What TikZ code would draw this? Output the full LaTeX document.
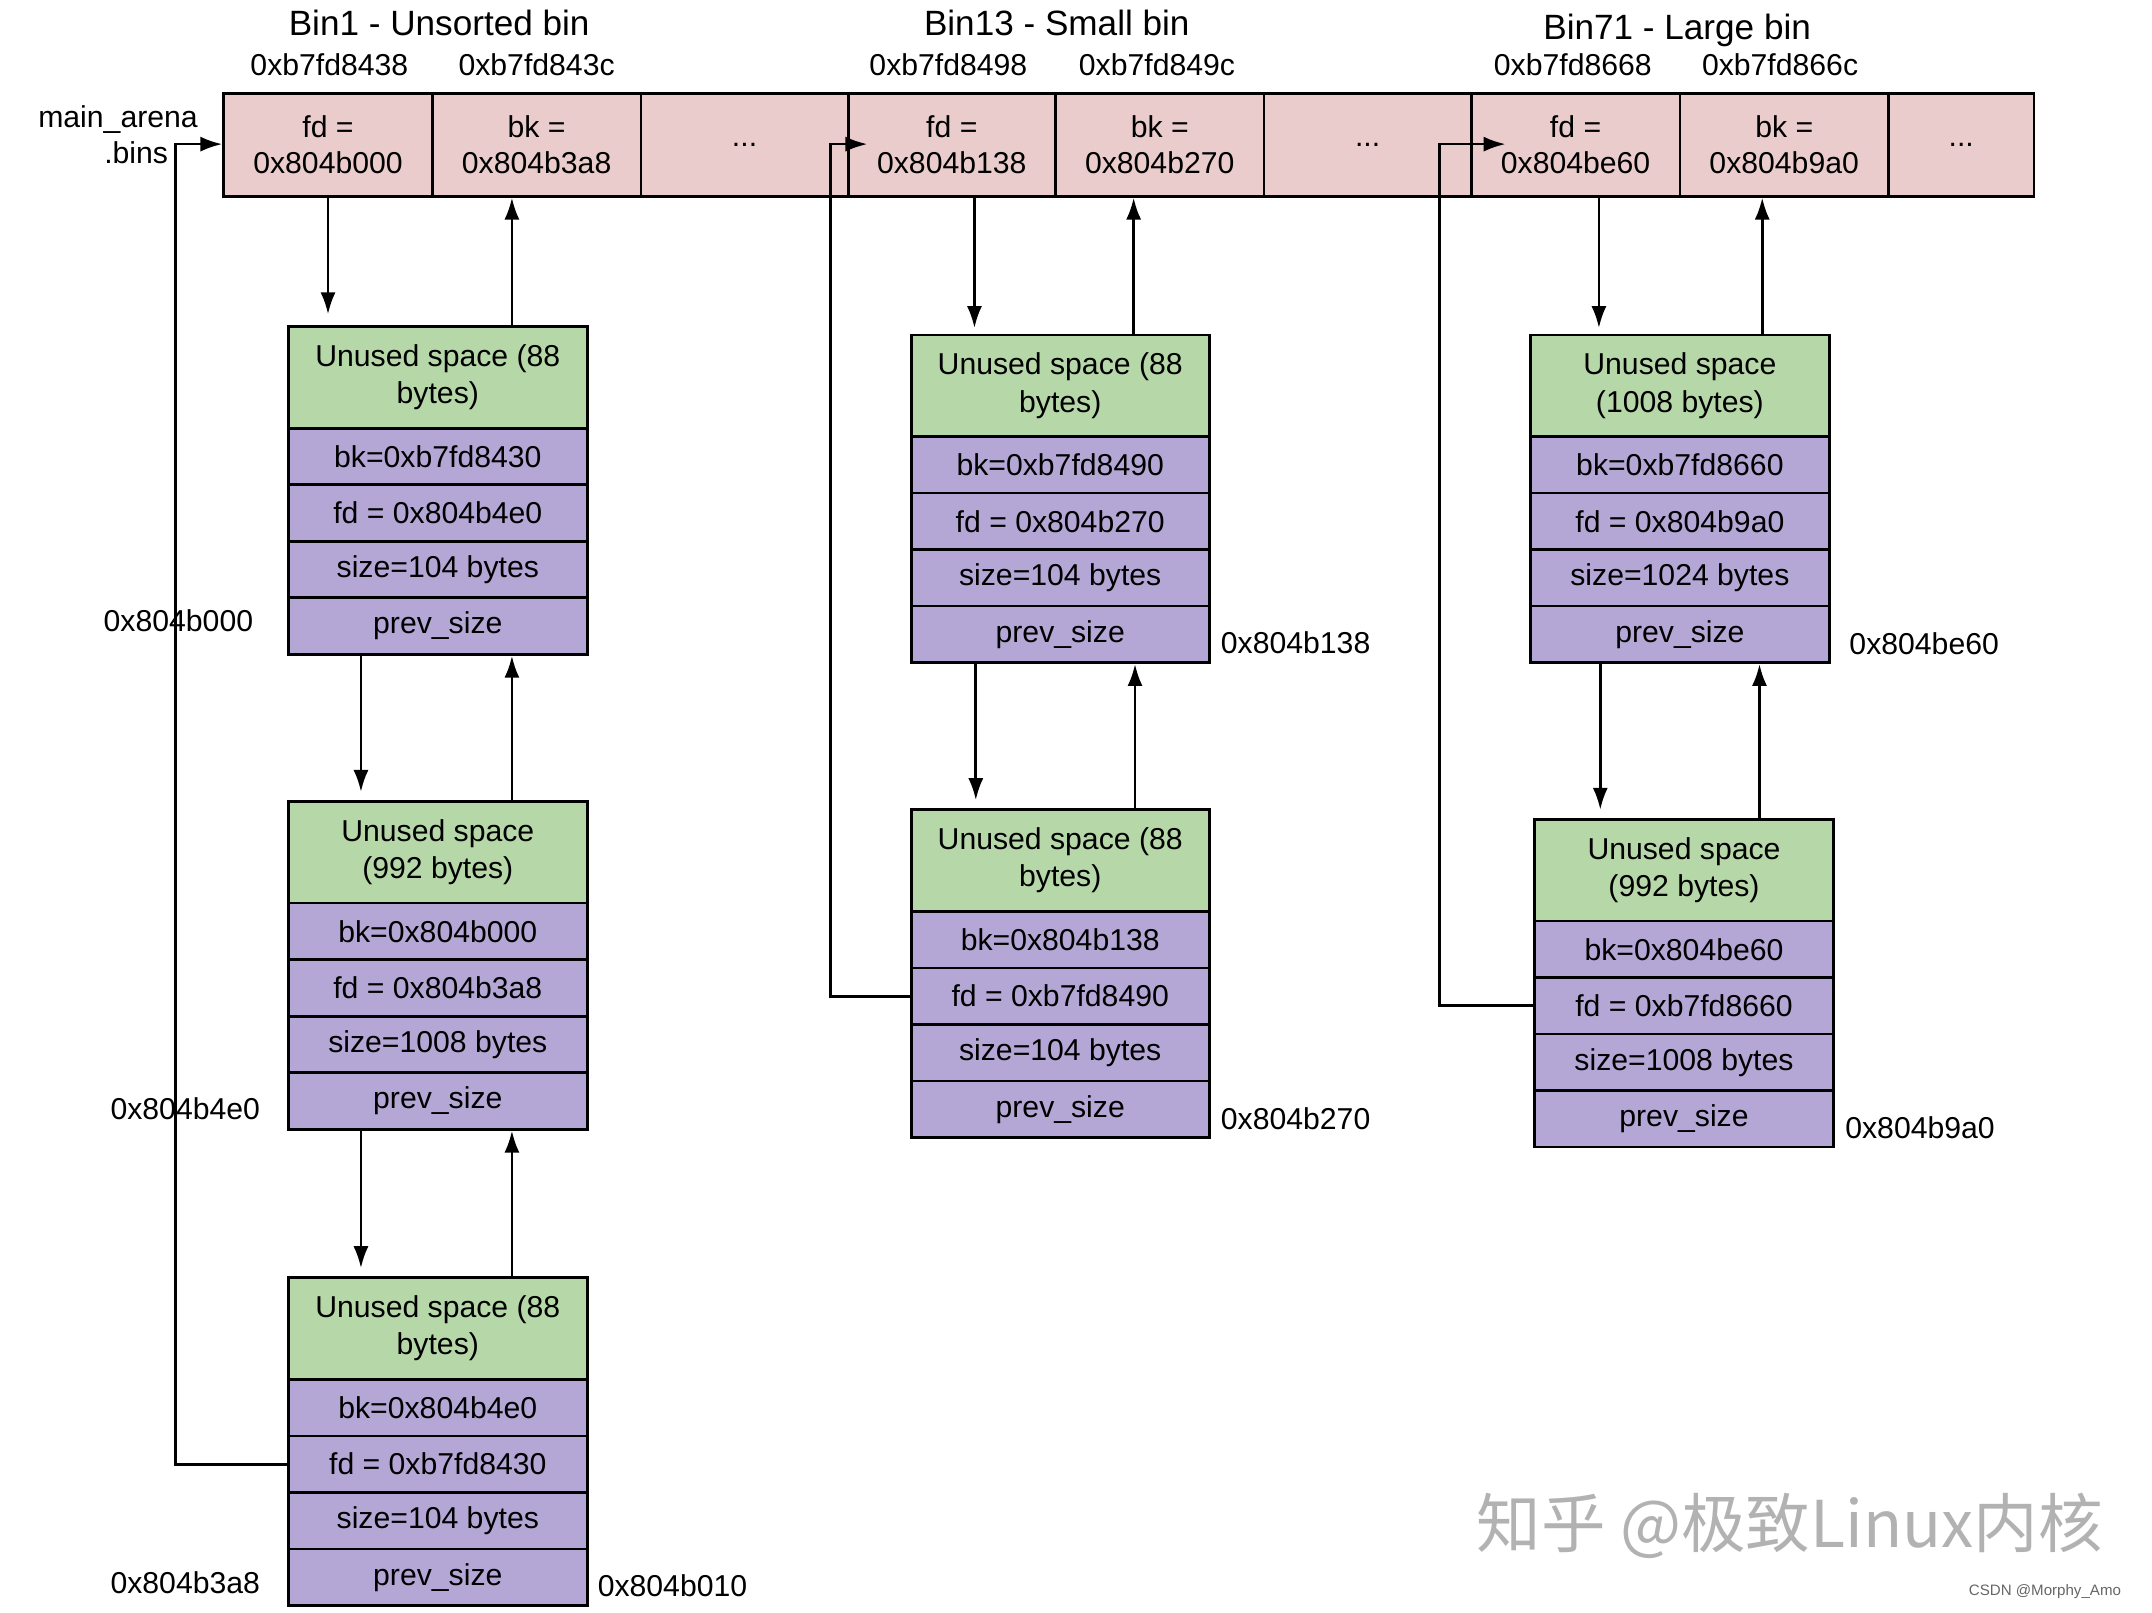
\documentclass[tikz,border=0pt]{standalone}
\usepackage{fontspec}
\setmainfont{Liberation Sans}
\newfontfamily\cjk{Noto Sans CJK SC}
\usetikzlibrary{arrows.meta,calc}
\definecolor{binpink}{RGB}{234,204,204}
\definecolor{chgreen}{RGB}{182,215,168}
\definecolor{chpurple}{RGB}{180,167,214}
\tikzset{
  cell/.style={draw=black,line width=1pt,fill=binpink,inner sep=0pt,align=center,font=\fontsize{11}{13}\selectfont},
  grn/.style={draw=black,line width=1pt,fill=chgreen,inner sep=0pt,align=center,font=\fontsize{11}{13.5}\selectfont},
  prp/.style={draw=black,line width=1pt,fill=chpurple,inner sep=0pt,align=center,font=\fontsize{11}{13}\selectfont},
  lbl/.style={inner sep=0pt,font=\fontsize{11}{13}\selectfont},
  ttl/.style={inner sep=0pt,font=\fontsize{12.8}{15}\selectfont},
  arr/.style={line width=1pt,-{Latex[length=8pt,width=5.5pt]}},
}
% #1 name #2 left #3 right #4 top #5 green text #6 bk #7 fd #8 size
\newcommand\mychunk[8]{%
  \pgfmathsetmacro\cw{(#3-#2)*0.5}%
  \pgfmathsetmacro\cx{(#2+#3)/2}%
  \node[grn,minimum width=\cw pt,minimum height=37pt] (#1g) at (\cx,#4+37) {#5};
  \node[prp,minimum width=\cw pt,minimum height=20.6pt] (#1bk) at (\cx,#4+74+20.6) {#6};
  \node[prp,minimum width=\cw pt,minimum height=20.6pt] (#1fd) at (\cx,#4+74+61.8) {#7};
  \node[prp,minimum width=\cw pt,minimum height=20.6pt] (#1sz) at (\cx,#4+74+103) {#8};
  \node[prp,minimum width=\cw pt,minimum height=20.6pt] (#1ps) at (\cx,#4+74+144.2) {prev\_size};
}
\begin{document}
\begin{tikzpicture}[x=0.5pt,y=-0.5pt]
\useasboundingbox (0,0) rectangle (1568,1175);
% bin bar
\foreach \n/\a/\b/\t in {c1/163/315/{fd =\\0x804b000},c2/315/467/{bk =\\0x804b3a8},c3/467/618/{...},
  c4/618/769/{fd =\\0x804b138},c5/769/921/{bk =\\0x804b270},c6/921/1072/{...},
  c7/1072/1224/{fd =\\0x804be60},c8/1224/1376/{bk =\\0x804b9a0},c9/1376/1482/{...}}{
  \pgfmathsetmacro\cw{(\b-\a)*0.5}
  \node[cell,minimum width=\cw pt,minimum height=37.5pt] (\n) at ({(\a+\b)/2},105.5) {\t};
}
% titles
\node[ttl] (t1) at (320,17) {Bin1 - Unsorted bin};
\node[ttl] (t2) at (770,17) {Bin13 - Small bin};
\node[ttl] (t3) at (1222,22) {Bin71 - Large bin};
\foreach \x/\t [count=\i] in {240/0xb7fd8438,391/0xb7fd843c,691/0xb7fd8498,843/0xb7fd849c,1146/0xb7fd8668,1297/0xb7fd866c}
  \node[lbl] (h\i) at (\x,47) {\t};
\node[lbl,align=center] (ma) at (86,98) {main\_arena\\\hspace*{1.2em}.bins};
% chunks
\mychunk{A}{210}{428}{238}{Unused space (88\\bytes)}{bk=0xb7fd8430}{fd = 0x804b4e0}{size=104 bytes}
\mychunk{B}{210}{428}{584}{Unused space\\(992 bytes)}{bk=0x804b000}{fd = 0x804b3a8}{size=1008 bytes}
\mychunk{C}{210}{428}{931}{Unused space (88\\bytes)}{bk=0x804b4e0}{fd = 0xb7fd8430}{size=104 bytes}
\mychunk{D}{664}{881}{244}{Unused space (88\\bytes)}{bk=0xb7fd8490}{fd = 0x804b270}{size=104 bytes}
\mychunk{E}{664}{881}{590}{Unused space (88\\bytes)}{bk=0x804b138}{fd = 0xb7fd8490}{size=104 bytes}
\mychunk{F}{1115}{1333}{244}{Unused space\\(1008 bytes)}{bk=0xb7fd8660}{fd = 0x804b9a0}{size=1024 bytes}
\mychunk{G}{1118}{1336}{597}{Unused space\\(992 bytes)}{bk=0x804be60}{fd = 0xb7fd8660}{size=1008 bytes}
% address labels
\node[lbl] (a1) at (130,452) {0x804b000};
\node[lbl] (a2) at (135,808) {0x804b4e0};
\node[lbl] (a3) at (135,1153) {0x804b3a8};
\node[lbl] (a4) at (490,1155) {0x804b010};
\node[lbl] (a5) at (944,468) {0x804b138};
\node[lbl] (a6) at (944,815) {0x804b270};
\node[lbl] (a7) at (1402,469) {0x804be60};
\node[lbl] (a8) at (1399,822) {0x804b9a0};
% x positions
\foreach \x in {240,263,373,710,711,826,827,1165,1166,1282,1284,128,605,1049}
  \coordinate (x\x) at (\x,0);
% column 1
\draw[arr,shorten >=4pt] (c1.south) -- (Ag.north -| c1.south);
\draw[arr] (Ag.north -| x373) -- (c2.south -| x373);
\draw[arr,shorten >=3pt] (Aps.south -| x263) -- (Bg.north -| x263);
\draw[arr] (Bg.north -| x373) -- (Aps.south -| x373);
\draw[arr,shorten >=3pt] (Bps.south -| x263) -- (Cg.north -| x263);
\draw[arr] (Cg.north -| x373) -- (Bps.south -| x373);
% column 2
\draw[arr,shorten >=2pt] (c4.south -| x710) -- (Dg.north -| x710);
\draw[arr] (Dg.north -| x826) -- (c5.south -| x826);
\draw[arr,shorten >=3pt] (Dps.south -| x711) -- (Eg.north -| x711);
\draw[arr] (Eg.north -| x827) -- (Dps.south -| x827);
% column 3
\draw[arr,shorten >=2pt] (c7.south -| x1165) -- (Fg.north -| x1165);
\draw[arr] (Fg.north -| x1284) -- (c8.south -| x1284);
\draw[arr,shorten >=3pt] (Fps.south -| x1166) -- (Gg.north -| x1166);
\draw[arr] (Gg.north -| x1282) -- (Fps.south -| x1282);
% loops
\draw[arr] (Cfd.west) -| (128,105) -- (c1.west |- 0,105);
\draw[arr] (Efd.west) -| (605,105) -- (632,105);
\draw[arr] (Gfd.west) -| (1049,105) -- (1097,105);
% watermarks
\node[inner sep=0pt,text=black!30,font=\cjk\fontsize{23.5}{26}\selectfont] (wm) at (1304,1112) {知乎 @极致Linux内核};
\node[inner sep=0pt,text=black!60,font=\fontsize{5.5}{6}\selectfont] (csdn) at (1490,1160) {CSDN @Morphy\_Amo};
\end{tikzpicture}
\end{document}
